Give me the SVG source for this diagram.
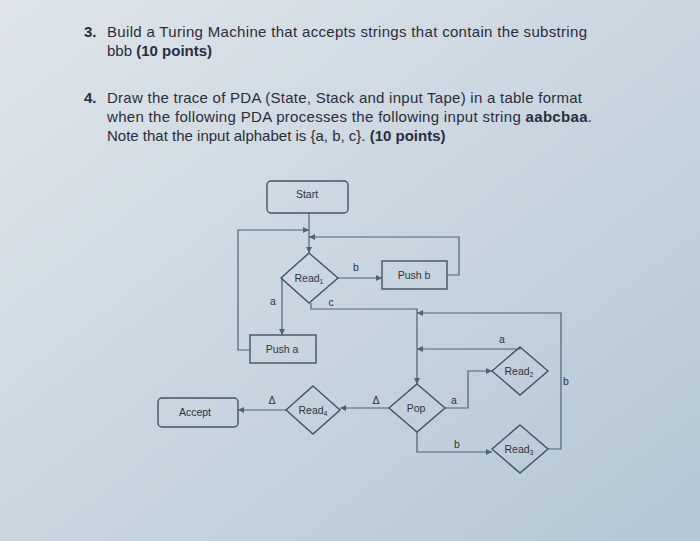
<svg xmlns="http://www.w3.org/2000/svg" width="700" height="541" viewBox="0 0 700 541">
<defs>
<linearGradient id="bg" x1="0" y1="0" x2="1" y2="1"><stop offset="0" stop-color="#dfe5ea"/><stop offset="0.5" stop-color="#c9d6e0"/><stop offset="1" stop-color="#b4c6d4"/></linearGradient>
<marker id="ar" viewBox="0 0 6 6" refX="6" refY="3" markerWidth="5" markerHeight="5" orient="auto"><path d="M0,0 L6,3 L0,6 z" fill="#4a6478"/></marker>
</defs>
<style>
.q{font-family:"Liberation Sans",Arial,sans-serif;font-size:15px;fill:#2b2d3c}
.b{font-weight:bold}
.s{fill:none;stroke:#3f5566;stroke-width:1.4}
.n{font-family:"Liberation Sans",Arial,sans-serif;font-size:10.5px;fill:#2b3440;text-anchor:middle}
.c{fill:none;stroke:#4a6478;stroke-width:1.2}
</style>
<rect width="700" height="541" fill="url(#bg)"/>
<text class="q" x="84" y="37"><tspan class="b">3.</tspan></text>
<text class="q" x="107" y="37" textLength="480">Build a Turing Machine that accepts strings that contain the substring</text>
<text class="q" x="107" y="56">bbb <tspan class="b">(10 points)</tspan></text>
<text class="q" x="84" y="103"><tspan class="b">4.</tspan></text>
<text class="q" x="107" y="103" textLength="475">Draw the trace of PDA (State, Stack and input Tape) in a table format</text>
<text class="q" x="107" y="122" textLength="485">when the following PDA processes the following input string <tspan class="b">aabcbaa</tspan>.</text>
<text class="q" x="107" y="141">Note that the input alphabet is {a, b, c}. <tspan class="b">(10 points)</tspan></text>
<g id="connectors">
<path class="c" d="M309,213 V253" marker-end="url(#ar)"/>
<path class="c" d="M250,350 H238 V230 H309" marker-end="url(#ar)"/>
<path class="c" d="M447,275 H459 V237 H309" marker-end="url(#ar)"/>
<path class="c" d="M282,278 V335" marker-end="url(#ar)"/>
<path class="c" d="M338,278 H382" marker-end="url(#ar)"/>
<path class="c" d="M311,303 V309 H417 V384" marker-end="url(#ar)"/>
<path class="c" d="M548,449 H561 V313 H417" marker-end="url(#ar)"/>
<path class="c" d="M520,347 V349 H417" marker-end="url(#ar)"/>
<path class="c" d="M445,408 H468 V371 H492" marker-end="url(#ar)"/>
<path class="c" d="M417,432 V452 H492" marker-end="url(#ar)"/>
<path class="c" d="M389,408 H340" marker-end="url(#ar)"/>
<path class="c" d="M286,410 H238" marker-end="url(#ar)"/>
<text class="n" x="273" y="305">a</text>
<text class="n" x="356" y="271">b</text>
<text class="n" x="331" y="306">c</text>
<text class="n" x="566" y="385">b</text>
<text class="n" x="502" y="343">a</text>
<text class="n" x="454" y="404">a</text>
<text class="n" x="457" y="448">b</text>
<text class="n" x="376" y="404">Δ</text>
<text class="n" x="272" y="404">Δ</text>
</g>
<g id="start"><rect class="s" x="267" y="181" width="81" height="32" rx="4"/><text class="n" x="307" y="198">Start</text></g>
<g id="read1"><path class="s" d="M309,253 L338,278 L309,303 L281,278 z"/><text class="n" x="309" y="282">Read<tspan font-size="7" dy="2">1</tspan></text></g>
<g id="pushb"><rect class="s" x="382" y="261" width="65" height="28"/><text class="n" x="414" y="279">Push b</text></g>
<g id="pusha"><rect class="s" x="250" y="335" width="66" height="28"/><text class="n" x="282" y="353">Push a</text></g>
<g id="read2"><path class="s" d="M520,347 L548,371 L520,395 L492,371 z"/><text class="n" x="519" y="375">Read<tspan font-size="7" dy="2">2</tspan></text></g>
<g id="pop"><path class="s" d="M417,384 L445,408 L417,432 L389,408 z"/><text class="n" x="416" y="412">Pop</text></g>
<g id="read4"><path class="s" d="M313,386 L340,410 L313,434 L286,410 z"/><text class="n" x="313" y="414">Read<tspan font-size="7" dy="2">4</tspan></text></g>
<g id="read3"><path class="s" d="M520,425 L548,449 L520,473 L492,449 z"/><text class="n" x="519" y="453">Read<tspan font-size="7" dy="2">3</tspan></text></g>
<g id="accept"><rect class="s" x="158" y="398" width="80" height="29" rx="4"/><text class="n" x="195" y="416">Accept</text></g>
</svg>
